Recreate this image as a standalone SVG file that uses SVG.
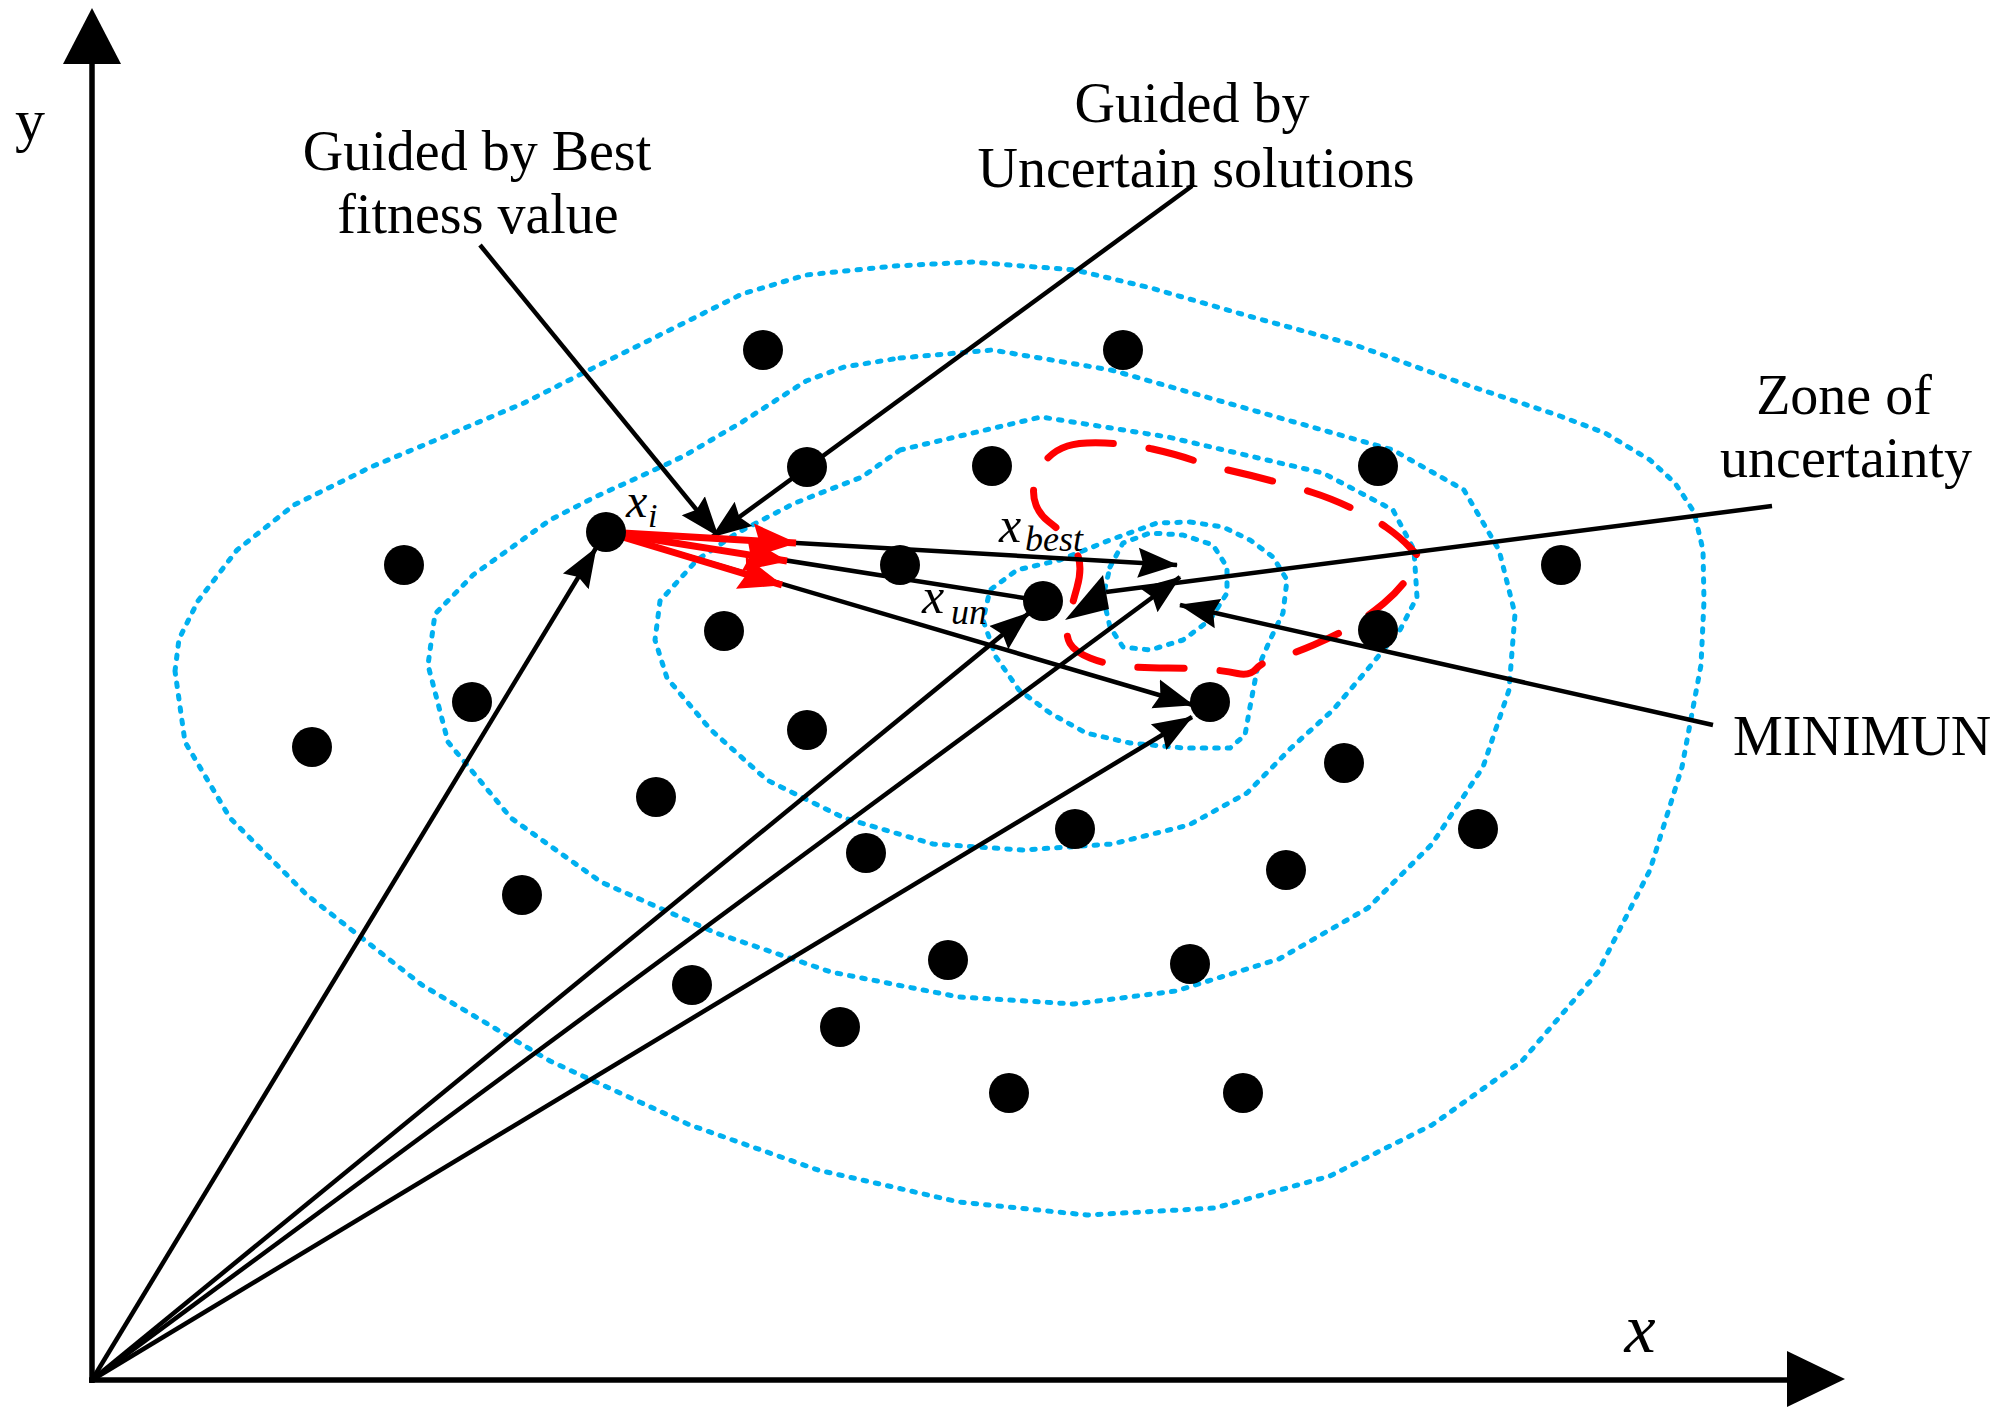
<svg xmlns="http://www.w3.org/2000/svg" width="2005" height="1419" viewBox="0 0 2005 1419">
<style>
.bg{fill:#fff}
.ax{stroke:#000;stroke-width:5.5;fill:none}
.ln{stroke:#000;stroke-width:4.5;fill:none}
.rd{stroke:#f00;stroke-width:7;fill:none}
.ct{stroke:#00b0f0;stroke-width:5;fill:none;stroke-dasharray:3.5 9;stroke-linecap:round;stroke-linejoin:round}
.zone{stroke:#f00;stroke-width:7;fill:none;stroke-dasharray:46 36;stroke-linecap:round;stroke-linejoin:round}
.dot{fill:#000}
.t{font-family:"Liberation Serif","Times New Roman",serif;font-size:56px;fill:#000}
.it{font-family:"Liberation Serif","Times New Roman",serif;font-style:italic;fill:#000}
</style>
<defs>
<marker id="ah" markerUnits="userSpaceOnUse" markerWidth="40" markerHeight="32" viewBox="0 0 40 32" refX="39" refY="16" orient="auto"><path d="M0,1 L40,16 L0,31 L5,16 Z" fill="#000"/></marker>
<marker id="rh" markerUnits="userSpaceOnUse" markerWidth="44" markerHeight="36" viewBox="0 0 44 36" refX="43" refY="18" orient="auto"><path d="M0,1 L44,18 L0,35 L6,18 Z" fill="#f00"/></marker>
</defs>
<rect class="bg" x="0" y="0" width="2005" height="1419"/>

<g id="contours">
<path class="ct" d="M175,671 L179,639 L198,601 L237,550 L294,505 L371,467 L448,435 L524,403 L601,364 L678,326 L742,294 L806,275 L895,266 L972,262 L1075,270 L1151,288 L1252,317 L1355,345 L1464,384 L1560,416 L1605,433 L1650,460 L1675,483 L1694,512 L1703,550 L1704,601 L1701,665 L1682,767 L1650,870 L1598,972 L1522,1061 L1432,1125 L1330,1176 L1215,1208 L1087,1215 L959,1202 L818,1170 L690,1125 L550,1061 L422,985 L307,895 L230,818 L185,742 Z"/>
<path class="ct" d="M900,358 L992,350 L1111,370 L1252,410 L1393,450 L1464,490 L1499,550 L1515,614 L1509,690 L1483,767 L1432,844 L1368,908 L1279,959 L1176,991 L1074,1004 L959,997 L831,972 L716,933 L601,882 L511,818 L448,742 L428,665 L435,614 L473,575 L550,520 L595,497 L639,477 L684,456 L742,422 L806,381 L844,367 Z"/>
<path class="ct" d="M900,450 L1041,417 L1168,437 L1323,473 L1393,510 L1414,550 L1417,597 L1400,630 L1367,670 L1333,710 L1291,748 L1247,793 L1189,825 L1112,844 L1023,850 L933,844 L844,818 L767,780 L710,729 L667,678 L655,640 L660,601 L697,560 L737,533 L795,503 L862,477 Z"/>
<path class="ct" d="M1190,522 L1223,527 L1250,540 L1273,557 L1287,580 L1283,613 L1270,640 L1257,670 L1250,707 L1245,735 L1230,748 L1184,748 L1130,743 L1086,733 L1050,713 L1019,690 L996,657 L983,620 L990,590 L1017,570 L1060,560 L1110,540 L1157,523 Z"/>
<path class="ct" d="M1110,567 L1123,543 L1150,533 L1183,535 L1213,545 L1227,567 L1227,593 L1210,620 L1183,640 L1150,650 L1123,647 L1110,627 L1103,597 Z"/>
</g>

<g id="zone">
<path class="zone" d="M1067.5,446 Q1080,442 1105,443 Q1130,444 1152.5,449 Q1175,454 1192.5,460 Q1210,466 1230,470.5 Q1250,475 1272.5,481 Q1295,487 1312.5,492.5 Q1330,498 1351.5,508 Q1373,518 1386.5,527.5 Q1400,537 1410,547.5 L1420,558 L1410,574 Q1400,590 1383.5,603.5 Q1367,617 1352,626 Q1337,635 1313.5,645 Q1290,655 1276,658.5 Q1262,662 1256,669 Q1250,676 1237.5,673.5 Q1225,671 1210,669.5 Q1195,668 1167.5,668 Q1140,668 1122.5,666 Q1105,664 1090,658 Q1075,652 1070,643.5 Q1065,635 1068.5,620 Q1072,605 1077,587.5 Q1082,570 1078.5,557.5 Q1075,545 1066,536.5 Q1057,528 1048.5,521.5 Q1040,515 1036,505 Q1032,495 1034.5,482.5 Q1037,470 1046,460 Q1055,450 1067.5,446 Z"/>
</g>

<g id="axes">
<line class="ax" x1="92" y1="1383" x2="92" y2="60"/>
<polygon points="92,8 63,64 121,64" fill="#000"/>
<line class="ax" x1="89" y1="1380" x2="1792" y2="1380"/>
<polygon points="1845,1379 1787,1351 1787,1407" fill="#000"/>
</g>

<g id="connectors">
<line class="ln" x1="92" y1="1380" x2="596" y2="548" marker-end="url(#ah)"/>
<line class="ln" x1="92" y1="1380" x2="1029" y2="613" marker-end="url(#ah)"/>
<line class="ln" x1="92" y1="1380" x2="1180" y2="577" marker-end="url(#ah)"/>
<line class="ln" x1="92" y1="1380" x2="1192" y2="717" marker-end="url(#ah)"/>
<line class="ln" x1="606" y1="532" x2="1177" y2="565" marker-end="url(#ah)"/>
<line class="ln" x1="606" y1="532" x2="1043" y2="601"/>
<line class="ln" x1="606" y1="532" x2="1193" y2="705" marker-end="url(#ah)"/>
<line class="ln" x1="480" y1="245" x2="718" y2="536" marker-end="url(#ah)"/>
<line class="ln" x1="1192" y1="186" x2="712" y2="537" marker-end="url(#ah)"/>
<line class="ln" x1="1772" y1="506" x2="1106" y2="592"/>
<polygon points="1065,620 1103,575 1109,609" fill="#000"/>
<line class="ln" x1="1713" y1="725" x2="1180" y2="605" marker-end="url(#ah)"/>
<line class="rd" x1="606" y1="532" x2="796" y2="543" marker-end="url(#rh)"/>
<line class="rd" x1="606" y1="532" x2="787" y2="561" marker-end="url(#rh)"/>
<line class="rd" x1="606" y1="532" x2="782" y2="585" marker-end="url(#rh)"/>
</g>

<g id="points">
<circle class="dot" cx="763" cy="350" r="20"/>
<circle class="dot" cx="1123" cy="350" r="20"/>
<circle class="dot" cx="807" cy="467" r="20"/>
<circle class="dot" cx="992" cy="466" r="20"/>
<circle class="dot" cx="1378" cy="466" r="20"/>
<circle class="dot" cx="606" cy="532" r="20"/>
<circle class="dot" cx="404" cy="565" r="20"/>
<circle class="dot" cx="900" cy="565" r="20"/>
<circle class="dot" cx="1561" cy="565" r="20"/>
<circle class="dot" cx="1043" cy="601" r="20"/>
<circle class="dot" cx="724" cy="631" r="20"/>
<circle class="dot" cx="1378" cy="630" r="20"/>
<circle class="dot" cx="472" cy="702" r="20"/>
<circle class="dot" cx="1210" cy="702" r="20"/>
<circle class="dot" cx="312" cy="747" r="20"/>
<circle class="dot" cx="807" cy="730" r="20"/>
<circle class="dot" cx="1344" cy="763" r="20"/>
<circle class="dot" cx="656" cy="797" r="20"/>
<circle class="dot" cx="1075" cy="829" r="20"/>
<circle class="dot" cx="1478" cy="829" r="20"/>
<circle class="dot" cx="866" cy="853" r="20"/>
<circle class="dot" cx="522" cy="895" r="20"/>
<circle class="dot" cx="1286" cy="870" r="20"/>
<circle class="dot" cx="948" cy="960" r="20"/>
<circle class="dot" cx="1190" cy="964" r="20"/>
<circle class="dot" cx="692" cy="985" r="20"/>
<circle class="dot" cx="840" cy="1027" r="20"/>
<circle class="dot" cx="1009" cy="1093" r="20"/>
<circle class="dot" cx="1243" cy="1093" r="20"/>
</g>

<g id="labels">
<text class="t" x="30" y="140" text-anchor="middle" style="font-size:60px">y</text>
<text class="it" x="1640" y="1352" text-anchor="middle" style="font-size:70px">x</text>
<text class="t" x="477" y="170" text-anchor="middle">Guided by Best</text>
<text class="t" x="478" y="233" text-anchor="middle">fitness value</text>
<text class="t" x="1192" y="122" text-anchor="middle">Guided by</text>
<text class="t" x="1196" y="187" text-anchor="middle">Uncertain solutions</text>
<text class="t" x="1844" y="414" text-anchor="middle">Zone of</text>
<text class="t" x="1846" y="477" text-anchor="middle">uncertainty</text>
<text class="t" x="1733" y="755">MINIMUN</text>
<text class="it" x="626" y="517" style="font-size:48px">x</text>
<text class="it" x="648" y="527" style="font-size:34px">i</text>
<text class="it" x="999" y="542" style="font-size:50px">x</text>
<text class="it" x="1025" y="551" style="font-size:36px">best</text>
<text class="it" x="922" y="613" style="font-size:50px">x</text>
<text class="it" x="951" y="624" style="font-size:36px">un</text>
</g>
</svg>
